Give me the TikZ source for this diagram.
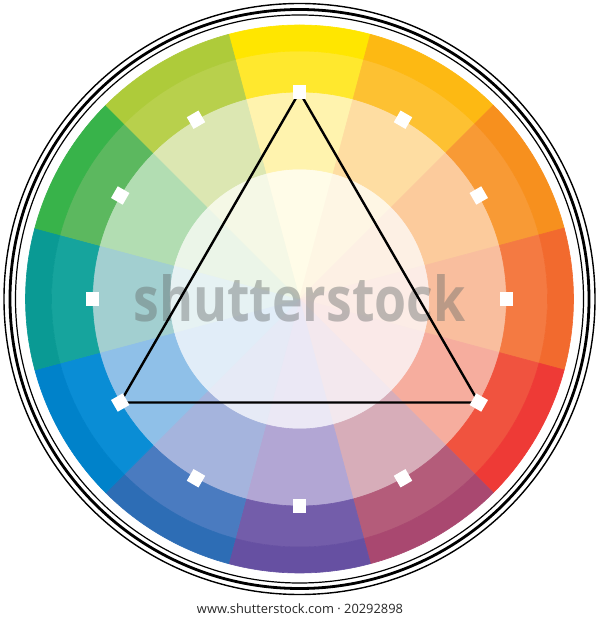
\documentclass[tikz,border=0pt]{standalone}
\usepackage{fontspec}
\usepackage{graphicx}
\newfontfamily\osans{Open Sans}
% outer band
\definecolor{o0}{HTML}{FFE600}\definecolor{o1}{HTML}{FDB913}\definecolor{o2}{HTML}{F7901E}
\definecolor{o3}{HTML}{F26A2E}\definecolor{o4}{HTML}{EE3A36}\definecolor{o5}{HTML}{A94870}
\definecolor{o6}{HTML}{6650A2}\definecolor{o7}{HTML}{2D6DB5}\definecolor{o8}{HTML}{0082CA}
\definecolor{o9}{HTML}{0A9A94}\definecolor{o10}{HTML}{38B34A}\definecolor{o11}{HTML}{AECB3A}
% middle band
\definecolor{m0}{HTML}{FFE82E}\definecolor{m1}{HTML}{FDC132}\definecolor{m2}{HTML}{F89A35}
\definecolor{m3}{HTML}{F47A42}\definecolor{m4}{HTML}{F0533F}\definecolor{m5}{HTML}{B45C7A}
\definecolor{m6}{HTML}{735DAA}\definecolor{m7}{HTML}{4A7BC0}\definecolor{m8}{HTML}{0A8DD5}
\definecolor{m9}{HTML}{16A49D}\definecolor{m10}{HTML}{5CB85F}\definecolor{m11}{HTML}{B8D04C}
% pale band
\definecolor{p0}{HTML}{FFF3AE}\definecolor{p1}{HTML}{FEDDA2}\definecolor{p2}{HTML}{FCCB9C}
\definecolor{p3}{HTML}{F9BE9E}\definecolor{p4}{HTML}{F6AD9E}\definecolor{p5}{HTML}{D7ADB9}
\definecolor{p6}{HTML}{B2A6D4}\definecolor{p7}{HTML}{A5B4DD}\definecolor{p8}{HTML}{8FC0E8}
\definecolor{p9}{HTML}{A2CFD0}\definecolor{p10}{HTML}{B2DDB2}\definecolor{p11}{HTML}{DCE7B2}
% inner disc
\definecolor{n0}{HTML}{FFFCE8}\definecolor{n1}{HTML}{FEF6E4}\definecolor{n2}{HTML}{FDF0E4}
\definecolor{n3}{HTML}{FCECE6}\definecolor{n4}{HTML}{FAE9E8}\definecolor{n5}{HTML}{F3E8EE}
\definecolor{n6}{HTML}{EBE8F5}\definecolor{n7}{HTML}{E6EAF6}\definecolor{n8}{HTML}{E1EDF8}
\definecolor{n9}{HTML}{E6F2F3}\definecolor{n10}{HTML}{EBF5E8}\definecolor{n11}{HTML}{F5F8E6}
\definecolor{wmark}{RGB}{100,105,105}
\definecolor{foottext}{RGB}{40,40,40}
\begin{document}
\begin{tikzpicture}[x=1pt,y=1pt,
  sector/.style={line width=0.6pt, line join=round},
  ring/.style={draw=black},
  marker/.style={fill=white, draw=none, minimum size=13.5pt, inner sep=0pt, outer sep=0pt},
  tri/.style={draw=black, line width=2.4pt, line join=miter}]
\useasboundingbox (-299.5,-321) rectangle (300.5,299);
\fill[white] (-299.5,-321) rectangle (300.5,299);
% colour sectors
\foreach \i in {0,...,11}{
  \pgfmathsetmacro\s{75-30*\i}
  \pgfmathsetmacro\e{105-30*\i}
  \filldraw[sector, fill=n\i, draw=n\i] (0,0) -- (\s:130) arc[start angle=\s, end angle=\e, radius=130] -- cycle;
  \filldraw[sector, fill=p\i, draw=p\i] (\s:130) arc[start angle=\s, end angle=\e, radius=130] -- (\e:207) arc[start angle=\e, end angle=\s, radius=207] -- cycle;
  \filldraw[sector, fill=m\i, draw=m\i] (\s:207) arc[start angle=\s, end angle=\e, radius=207] -- (\e:248) arc[start angle=\e, end angle=\s, radius=248] -- cycle;
  \filldraw[sector, fill=o\i, draw=o\i] (\s:248) arc[start angle=\s, end angle=\e, radius=248] -- (\e:274) arc[start angle=\e, end angle=\s, radius=274] -- cycle;
}
% frame circles
\draw[ring, line width=1.2pt] (0,0) circle[radius=284];
\draw[ring, line width=2.8pt] (0,0) circle[radius=289.5];
\draw[ring, line width=1.4pt] (0,0) circle[radius=295.5];
% watermark
\node[anchor=base, inner sep=0pt, text=wmark, text opacity=0.42] (wm) at (0,-23)
  {\resizebox{332pt}{47pt}{\osans\bfseries shutterstock}};
% marker positions
\foreach \i in {0,...,11}{
  \coordinate (p\i) at ({90-30*\i}:207);
}
% triangle
\draw[tri] (p0) -- (p4) -- (p8) -- cycle;
% markers
\foreach \i in {0,...,11}{
  \node[marker, rotate={90-30*\i}] (sq\i) at (p\i) {};
}
% footer
\node[anchor=base, inner sep=0pt, text=foottext] (foot) at (0.5,-314.5)
  {\resizebox{206pt}{!}{\osans www.shutterstock.com · 20292898}};
\end{tikzpicture}
\end{document}
